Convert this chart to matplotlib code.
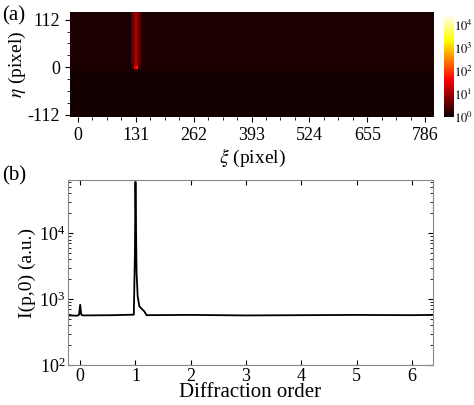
import numpy as np
import matplotlib
matplotlib.use("Agg")
import matplotlib.pyplot as plt
from matplotlib.colors import LogNorm

plt.rcParams['font.family'] = ['Liberation Serif', 'DejaVu Serif']
plt.rcParams['mathtext.fontset'] = 'stix'

# panel (a): detector image described by columns and rows
xi_edges = [-18, 120, 127, 131, 135, 142, 806]
eta_edges = [-117, -10, -3, 3, 10, 130]
# intensity per cell (rows = eta bands bottom->top, cols = xi bands)
img_vals = [
    [1.15, 1.15, 1.2, 1.2, 1.15, 1.15],
    [1.25, 1.3, 2.0, 2.0, 1.3, 1.25],
    [1.3, 2.5, 40.0, 60.0, 2.5, 1.3],
    [1.3, 3.0, 12.0, 12.0, 3.0, 1.3],
    [1.3, 3.5, 10.0, 10.0, 3.5, 1.3],
]
cbar_ticks = [1, 10, 100, 1000, 10000]
cbar_labels = ['$10^0$', '$10^1$', '$10^2$', '$10^3$', '$10^4$']
xi_ticks = [0, 131, 262, 393, 524, 655, 786]
eta_ticks = [-112, 0, 112]

# panel (b): intensity profile
order = [-0.22, -0.05, -0.02, 0.0, 0.02, 0.05, 0.6, 0.97, 0.99, 1.0, 1.01, 1.02,
         1.04, 1.07, 1.12, 1.16, 1.2, 2.0, 3.0, 4.0, 5.0, 6.0, 6.38]
intensity = [565, 560, 580, 820, 580, 565, 570, 580, 5000, 60000, 12000, 2500,
             1100, 780, 700, 650, 570, 575, 565, 570, 575, 570, 575]

fig = plt.figure(figsize=(4.74, 4.05), dpi=100)
W, H = 474, 405
ax1 = fig.add_axes([70/W, 1-117/H, 364/W, 105/H])
cax = fig.add_axes([444/W, 1-117/H, 10/W, 103/H])
ax2 = fig.add_axes([68/W, 1-365/H, 365/W, 185/H])

norm = LogNorm(vmin=1, vmax=3e4)
pm = ax1.pcolormesh(xi_edges, eta_edges, np.array(img_vals), cmap='hot', norm=norm)
ax1.set_xlim(-18, 806)
ax1.set_ylim(-117, 130)
ax1.set_xticks(xi_ticks)
ax1.set_yticks(eta_ticks)
ax1.set_yticklabels(['-112', '0', '112'])
ax1.tick_params(labelsize=13, direction='out')
ax1.minorticks_on()
ax1.set_xlabel(r'$\xi$ (pixel)', fontsize=14, labelpad=2)
ax1.set_ylabel(r'$\eta$ (pixel)', fontsize=14, labelpad=0)
for s in ax1.spines.values():
    s.set_visible(False)
cb = fig.colorbar(pm, cax=cax)
cb.set_ticks(cbar_ticks)
cb.set_ticklabels(cbar_labels)
cb.ax.tick_params(labelsize=9, pad=0, length=0)
cb.ax.minorticks_off()
cb.outline.set_visible(False)

ax2.plot(order, intensity, color='black', lw=1.3)
ax2.set_yscale('log')
ax2.set_xlim(-0.22, 6.38)
ax2.set_ylim(100, 64000)
ax2.set_xticks(range(7))
ax2.tick_params(labelsize=13, direction='in', top=True, right=True, pad=2)
ax2.tick_params(which='minor', direction='in', top=True, right=True)
ax2.set_xlabel('Diffraction order', fontsize=15, labelpad=-1)
ax2.set_ylabel('I(p,0) (a.u.)', fontsize=14, labelpad=2)
for s in ax2.spines.values():
    s.set_color('#888888')

fig.text(2/W, 1-20/H, '(a)', fontsize=15)
fig.text(2/W, 1-180/H, '(b)', fontsize=15)
fig.savefig('out.png', dpi=100)
